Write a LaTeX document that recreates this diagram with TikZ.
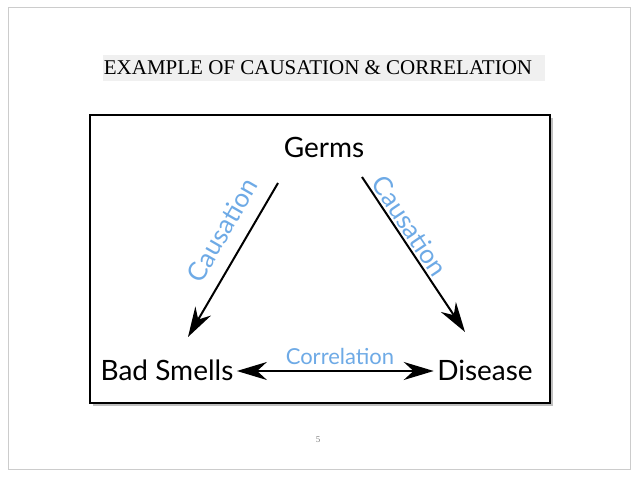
\documentclass[tikz,border=0pt]{standalone}
\usepackage{fontspec}
\setmainfont{Liberation Serif}
\newfontfamily\lat{Lato}
\usetikzlibrary{arrows.meta,calc}
\definecolor{blu}{RGB}{110,170,230}
\begin{document}
\begin{tikzpicture}[x=1pt,y=-1pt,
  lbl/.style={font=\lat\fontsize{28}{30}\selectfont},
  cau/.style={font=\lat\fontsize{26}{28}\selectfont,text=blu},
  tip/.style={Stealth[length=30pt,width=18pt]},
  arr/.style={line width=2pt,-{Stealth[length=30pt,width=18pt]}}]
\useasboundingbox (0,0) rectangle (638,478);
\fill[white] (0,0) rectangle (638,478);
\draw[gray!40,line width=1pt] (8,8) rectangle (630,470);
\fill[gray!12] (103,55) rectangle (545,81);
\node (title) at (318,68) {\fontsize{21}{23}\selectfont EXAMPLE OF CAUSATION \& CORRELATION};
\fill[gray!50] (93,118) rectangle (553,406);
\draw[line width=2.5pt,fill=white] (90,115) rectangle (550,403);
\node[lbl] (g) at (324,147) {Germs};
\node[lbl] (b) at (167,370) {Bad Smells};
\node[lbl] (d) at (485,370) {Disease};
\coordinate (l1) at (278,183); \coordinate (l2) at (188,337);
\coordinate (r1) at (362,177); \coordinate (r2) at (465,332);
\draw[arr] (l1) -- (l2);
\draw[arr] (r1) -- (r2);
\draw[line width=2pt,{Stealth[length=30pt,width=18pt]}-{Stealth[length=30pt,width=18pt]}] ($(b.east)+(0,1)$) -- ($(d.west)+(0,1)$);
\node[cau,rotate=60] (c1) at (222,230) {Causation};
\node[cau,rotate=-56] (c2) at (410,226) {Causation};
\node[cau,font=\lat\fontsize{22}{24}\selectfont] (c3) at (340,356) {Correlation};
\node[text=gray,font=\fontsize{9}{10}\selectfont] (p) at (318,440) {5};
\end{tikzpicture}
\end{document}
